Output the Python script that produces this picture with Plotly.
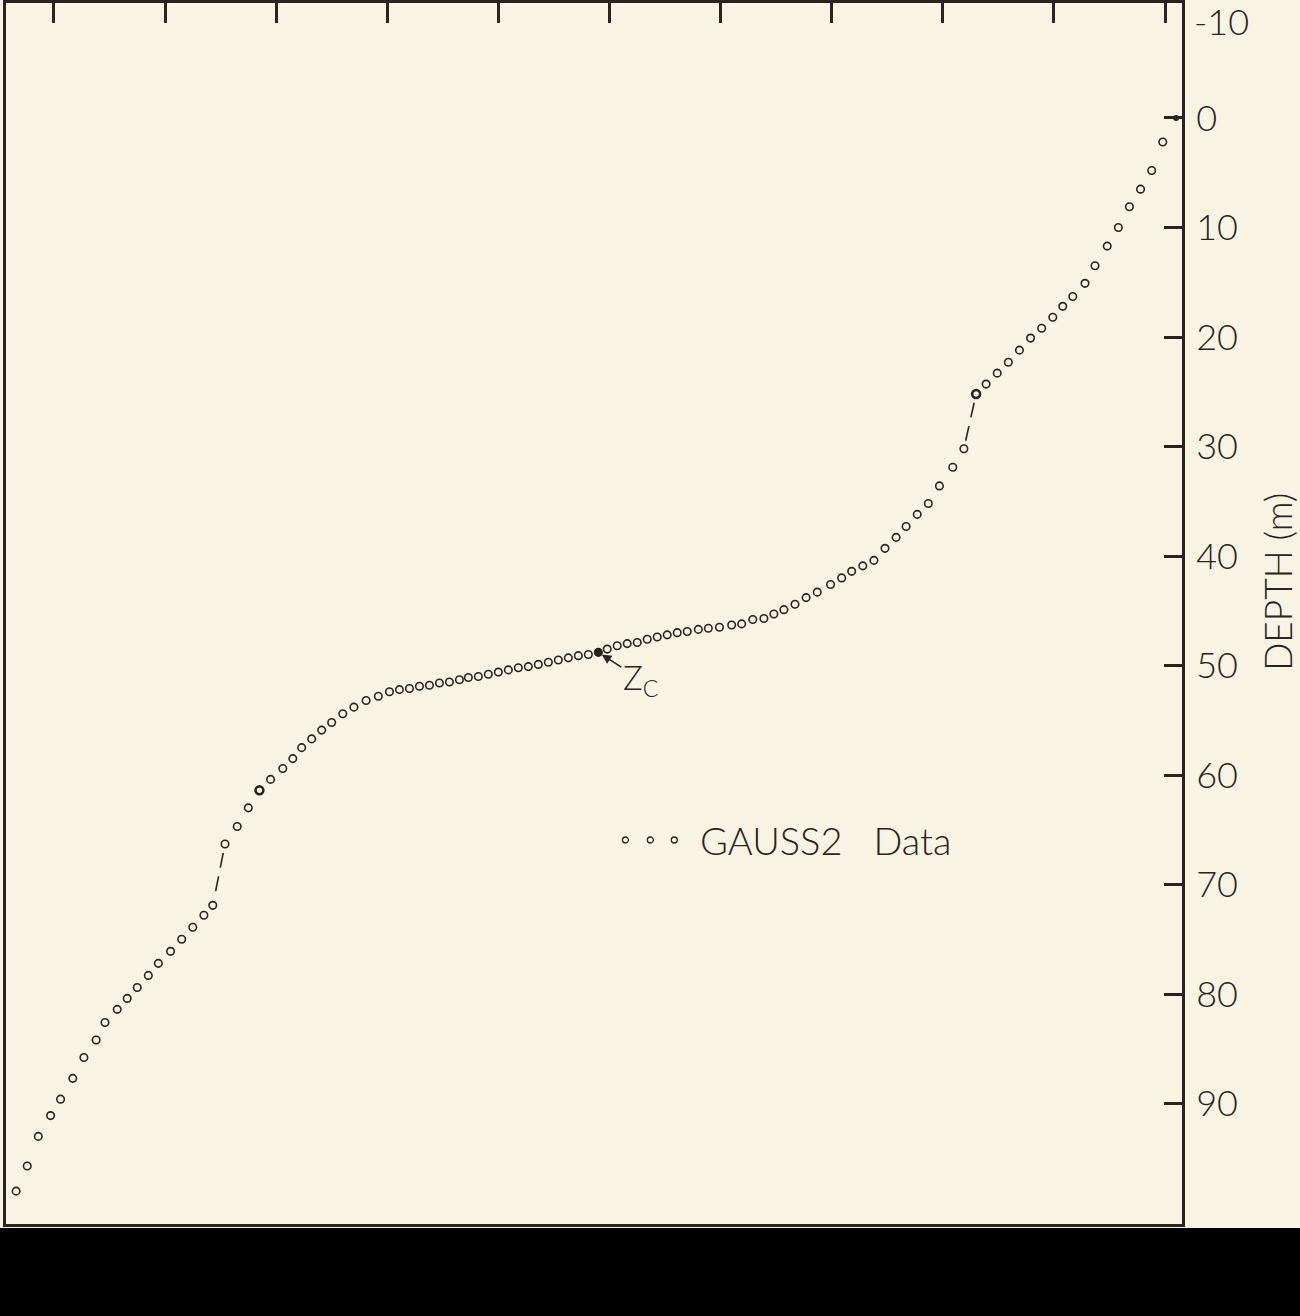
import plotly.graph_objects as go

# ---- data ----
# x: position along the (unlabelled) top axis, in tick units (ticks at 0..10)
x_vals = [9.98, 9.88, 9.78, 9.68, 9.58, 9.48, 9.37, 9.28, 9.17, 9.08, 8.99, 8.89, 8.79, 8.69, 8.59, 8.49, 8.39, 8.30,
          8.19, 8.09, 7.97, 7.87, 7.77, 7.67, 7.58, 7.48, 7.38, 7.28, 7.18, 7.09, 6.99, 6.87, 6.77, 6.67, 6.57, 6.48,
          6.39, 6.29, 6.19, 6.10, 5.99, 5.89, 5.80, 5.70, 5.61, 5.52, 5.43, 5.34, 5.25, 5.16, 5.07, 4.98, 4.90,
          4.81, 4.72, 4.63, 4.54, 4.45, 4.36, 4.27, 4.18, 4.09, 4.00, 3.91, 3.82, 3.73, 3.65, 3.56, 3.47, 3.38, 3.29,
          3.20, 3.11, 3.02, 2.92, 2.81, 2.70, 2.60, 2.50, 2.41, 2.32, 2.23, 2.15, 2.06, 1.95, 1.85, 1.75, 1.65, 1.54,
          1.43, 1.35, 1.25, 1.15, 1.05, 0.94, 0.85, 0.75, 0.66, 0.57, 0.46, 0.38, 0.27, 0.17, 0.06, -0.03, -0.14,
          -0.24, -0.34]
depth_m = [2.2, 4.8, 6.5, 8.1, 10.0, 11.7, 13.5, 15.1, 16.3, 17.2, 18.2, 19.2, 20.1, 21.2, 22.3, 23.3, 24.3, 25.2,
           30.2, 31.9, 33.6, 35.2, 36.2, 37.3, 38.3, 39.3, 40.4, 40.9, 41.4, 42.0, 42.6, 43.3, 43.8, 44.4, 44.9, 45.3,
           45.7, 45.8, 46.2, 46.3, 46.5, 46.6, 46.7, 46.9, 47.0, 47.2, 47.4, 47.6, 47.9, 48.0, 48.2, 48.5, 48.8,
           49.0, 49.1, 49.3, 49.5, 49.7, 49.9, 50.1, 50.2, 50.4, 50.6, 50.8, 51.0, 51.1, 51.3, 51.5, 51.6, 51.8, 51.9,
           52.1, 52.2, 52.4, 52.8, 53.2, 53.8, 54.4, 55.2, 55.9, 56.7, 57.5, 58.5, 59.4, 60.4, 61.4, 63.0, 64.7, 66.3,
           71.9, 72.8, 73.9, 75.0, 76.1, 77.2, 78.3, 79.4, 80.4, 81.4, 82.6, 84.2, 85.8, 87.7, 89.6, 91.1, 93.0,
           95.7, 98.0]
bold_idx = [17, 85]               # points drawn with heavier rings
gap_pairs = [(17, 18), (88, 89)]  # dashed connections across data gaps
zc_idx = 52                       # Zc point
surface_x = [10.10]
surface_depth = [0.0]

x_ticks = list(range(0, 11))
depth_ticks = [0, 10, 20, 30, 40, 50, 60, 70, 80, 90]
depth_ticklabels = [str(v) for v in depth_ticks]

INK = "#2a2420"
BG = "#f8f4e4"
FONT = "Lato, 'Open Sans', sans-serif"

fig = go.Figure()

# dashed segments across gaps
for a, b in gap_pairs:
    fig.add_trace(go.Scatter(
        x=[x_vals[a], x_vals[b]], y=[depth_m[a], depth_m[b]], mode="lines",
        line=dict(color=INK, width=1.6, dash="0px,9px,15px,9px,15px,60px"),
        hoverinfo="skip", showlegend=False))

# main data rings
fig.add_trace(go.Scatter(
    x=x_vals, y=depth_m, mode="markers", name="GAUSS2 Data",
    marker=dict(symbol="circle-open", size=7.5, color=INK, line=dict(width=1.6, color=INK)),
    showlegend=False))

# heavier rings
fig.add_trace(go.Scatter(
    x=[x_vals[i] for i in bold_idx], y=[depth_m[i] for i in bold_idx], mode="markers",
    marker=dict(symbol="circle-open", size=8, color=INK, line=dict(width=2.5, color=INK)),
    hoverinfo="skip", showlegend=False))

# Zc filled point
fig.add_trace(go.Scatter(
    x=[x_vals[zc_idx]], y=[depth_m[zc_idx]], mode="markers",
    marker=dict(symbol="circle", size=8, color=INK),
    hoverinfo="skip", showlegend=False))

# surface point
fig.add_trace(go.Scatter(
    x=surface_x, y=surface_depth, mode="markers",
    marker=dict(symbol="circle", size=6, color=INK),
    hoverinfo="skip", showlegend=False, cliponaxis=False))

W, H = 1300, 1316
ml, mr, mt, mb = 3, 118, 3, 92
pw, ph = W - ml - mr, H - mt - mb


def px(xp):
    return (xp - ml) / pw


def py(yp):
    return 1 - (yp - mt) / ph


annotations = [
    dict(x=x_vals[zc_idx], y=depth_m[zc_idx], xref="x", yref="y",
         text="Z<sub>C</sub>", showarrow=True, ax=42, ay=27,
         arrowhead=2, arrowsize=1.2, arrowwidth=1.6, arrowcolor=INK, standoff=4,
         font=dict(family=FONT, size=33, color=INK, weight=300), xanchor="center", yanchor="middle"),
    dict(x=px(697), y=py(840), xref="paper", yref="paper",
         text="GAUSS2&nbsp;&nbsp;&nbsp;Data",
         showarrow=False, xanchor="left", yanchor="middle",
         font=dict(family=FONT, size=38, color=INK, weight=300)),
    dict(x=px(1192), y=py(21), xref="paper", yref="paper", text="-10",
         showarrow=False, xanchor="left", yanchor="middle",
         font=dict(family=FONT, size=36, color=INK, weight=300)),
    dict(x=px(1277), y=py(582), xref="paper", yref="paper", text="DEPTH (m)",
         showarrow=False, textangle=-90, xanchor="center", yanchor="middle",
         font=dict(family=FONT, size=37, color=INK, weight=300)),
]

shapes = []
for cx in (624, 649, 673):
    shapes.append(dict(type="circle", xref="paper", yref="paper",
                       xsizemode="pixel", ysizemode="pixel",
                       xanchor=px(cx), yanchor=py(840),
                       x0=-3, x1=3, y0=-3, y1=3,
                       line=dict(color=INK, width=1.3)))
# dark band along the bottom of the scan
shapes.append(dict(type="rect", xref="paper", yref="paper",
                   x0=px(-10), x1=px(W + 10), y0=py(H + 10), y1=py(1228),
                   fillcolor="#000000", line=dict(width=0), layer="above"))

fig.update_layout(
    width=W, height=H,
    margin=dict(l=ml, r=mr, t=mt, b=mb),
    paper_bgcolor=BG, plot_bgcolor=BG,
    font=dict(family=FONT, color=INK),
    showlegend=False,
    annotations=annotations,
    shapes=shapes,
    xaxis=dict(side="top", range=[-0.431, 10.153], tickvals=x_ticks, showticklabels=False,
               ticks="inside", ticklen=20, tickwidth=3, tickcolor=INK,
               showline=True, linecolor=INK, linewidth=3, mirror=True,
               showgrid=False, zeroline=False),
    yaxis=dict(side="right", range=[101.0, -10.5], tickvals=depth_ticks, ticktext=depth_ticklabels,
               ticks="inside", ticklen=18, tickwidth=3, tickcolor=INK,
               tickfont=dict(family=FONT, size=36, color=INK, weight=300), ticklabelstandoff=4,
               showline=True, linecolor=INK, linewidth=3, mirror=True,
               showgrid=False, zeroline=False),
)

fig.write_html(
    "out.html",
    config={"displayModeBar": False},
    post_script="document.body.style.margin='0px';document.documentElement.style.overflow='hidden';",
)
